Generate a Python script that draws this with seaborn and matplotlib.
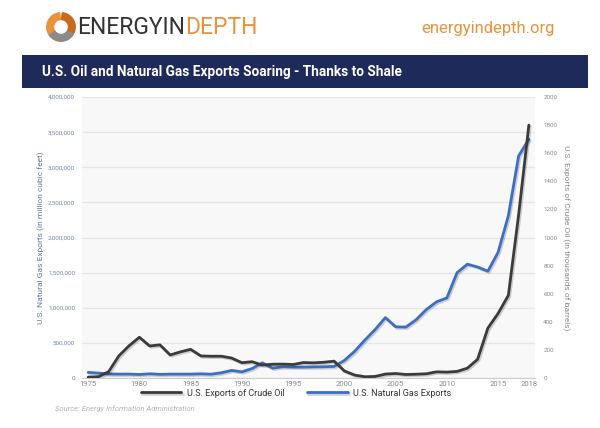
import matplotlib
matplotlib.use("Agg")
import matplotlib.pyplot as plt
import matplotlib.patheffects as pe
from matplotlib.patches import Rectangle, Wedge
import seaborn as sns

# data
years = list(range(1975, 2019))
crude_oil = [6, 9, 45, 158, 230, 290, 228, 236, 164, 186,
             204, 157, 155, 155, 142, 109, 116, 92, 98, 99,
             96, 110, 108, 112, 120, 50, 21, 9, 11, 28,
             32, 25, 27, 30, 44, 42, 47, 70, 133, 355,
             460, 588, 1160, 1800]
nat_gas = [80000, 70000, 58000, 55000, 56000, 50000, 60000, 52000, 55000, 55000,
           55000, 60000, 54000, 75000, 108000, 88000, 135000, 216000, 140000, 160000,
           155000, 155000, 158000, 160000, 165000, 250000, 380000, 540000, 690000, 860000,
           729000, 725000, 830000, 975000, 1085000, 1140000, 1500000, 1620000, 1580000, 1520000,
           1790000, 2310000, 3160000, 3400000]
x_ticks = [1975, 1980, 1985, 1990, 1995, 2000, 2005, 2010, 2015, 2018]
left_ticks = list(range(0, 4000001, 500000))
right_ticks = list(range(0, 2001, 200))

OIL_COLOR = "#3b3b3b"
GAS_COLOR = "#3b6fc6"
ORANGE = "#e8923c"
NAVY = "#1e2a5a"

sns.set_theme(style="white")
plt.rcParams["font.family"] = ["Roboto", "DejaVu Sans"]

fig = plt.figure(figsize=(6, 4.28), dpi=100)
fig.patch.set_facecolor("white")

# header: logo, url, title bar
icon = fig.add_axes([46 / 600, 1 - 42 / 428, 30 / 600, 30 / 428])
icon.set_xlim(-1, 1)
icon.set_ylim(-1, 1)
icon.set_aspect("equal")
icon.axis("off")
icon.add_patch(Wedge((0, 0), 0.95, 95, 215, width=0.45, color=ORANGE))
icon.add_patch(Wedge((0, 0), 0.95, 215, 330, width=0.45, color="#8a8a8a"))
icon.add_patch(Wedge((0, 0), 0.95, -25, 85, width=0.45, color="#c86a1e"))

t1 = fig.text(77 / 600, 1 - 27 / 428, "ENERGYIN", fontsize=16.5, color="#333333",
              va="center", ha="left")
fig.text(0, 0, "")
plt.annotate("DEPTH", xy=(1, 0.5), xycoords=t1, va="center", ha="left",
             fontsize=16.5, color=ORANGE, annotation_clip=False)
fig.text(555 / 600, 1 - 28 / 428, "energyindepth.org", fontsize=12, color=ORANGE,
         ha="right", va="center")

fig.patches.append(Rectangle((22 / 600, 1 - 88 / 428), 566 / 600, 33 / 428,
                             transform=fig.transFigure, facecolor=NAVY, edgecolor="none"))
fig.text(42 / 600, 1 - 72 / 428, "U.S. Oil and Natural Gas Exports Soaring - Thanks to Shale",
         fontsize=9.8, fontweight="bold", color="white", va="center", ha="left")

# main chart
ax = fig.add_axes([82 / 600, 1 - 378 / 428, 453 / 600, 281 / 428])
ax2 = ax.twinx()
ax.set_facecolor("#f8f8f9")
ax2.patch.set_visible(False)

shadow = [pe.SimpleLineShadow(offset=(1, -1), alpha=0.18, shadow_color="black"), pe.Normal()]
sns.lineplot(x=years, y=nat_gas, ax=ax, color=GAS_COLOR, linewidth=2.0)
sns.lineplot(x=years, y=crude_oil, ax=ax2, color=OIL_COLOR, linewidth=2.0)
for line in ax.lines + ax2.lines:
    line.set_path_effects(shadow)

ax.set_xlim(1974.4, 2018.6)
ax.set_ylim(0, 4000000)
ax2.set_ylim(0, 2000)
ax.set_xticks(x_ticks)
ax.set_yticks(left_ticks)
ax2.set_yticks(right_ticks)
ax.set_yticklabels([f"{v:,}" for v in left_ticks])
ax2.set_yticklabels([str(v) for v in right_ticks])
ax.yaxis.grid(True, color="#e6e6e6", linewidth=0.9)
ax.xaxis.grid(False)

for a in (ax, ax2):
    for side in ("top", "left", "right", "bottom"):
        a.spines[side].set_visible(False)
ax.spines["bottom"].set_visible(True)
ax.spines["bottom"].set_color("#cccccc")
ax.spines["bottom"].set_linewidth(0.8)

ax.tick_params(axis="x", length=0, pad=2, labelsize=5.5, labelcolor="#8a8a8a")
ax.tick_params(axis="y", length=0, pad=5, labelsize=4.5, labelcolor="#7483a8")
ax2.tick_params(axis="y", length=0, pad=6, labelsize=4.5, labelcolor="#8a8a8a")

ax.set_ylabel("U.S. Natural Gas Exports (in million cubic feet)", fontsize=6,
              color="#6676a4", labelpad=2)
ax2.set_ylabel("U.S. Exports of Crude Oil (in thousands of barrels)", fontsize=6,
               color="#8a8a8a", rotation=270, labelpad=9)

fig.legend(handles=[ax2.lines[0], ax.lines[0]],
           labels=["U.S. Exports of Crude Oil", "U.S. Natural Gas Exports"],
           loc="center", bbox_to_anchor=(296 / 600, 1 - 393 / 428), ncol=2,
           frameon=False, fontsize=6.5, handlelength=4.5, columnspacing=2.5,
           handletextpad=0.6, labelcolor="#333333")

fig.text(55 / 600, 1 - 409 / 428, "Source: Energy Information Administration",
         fontsize=5.5, style="italic", color="#b5b5b5", ha="left", va="center")

fig.savefig("out.png", dpi=100, facecolor="white")
